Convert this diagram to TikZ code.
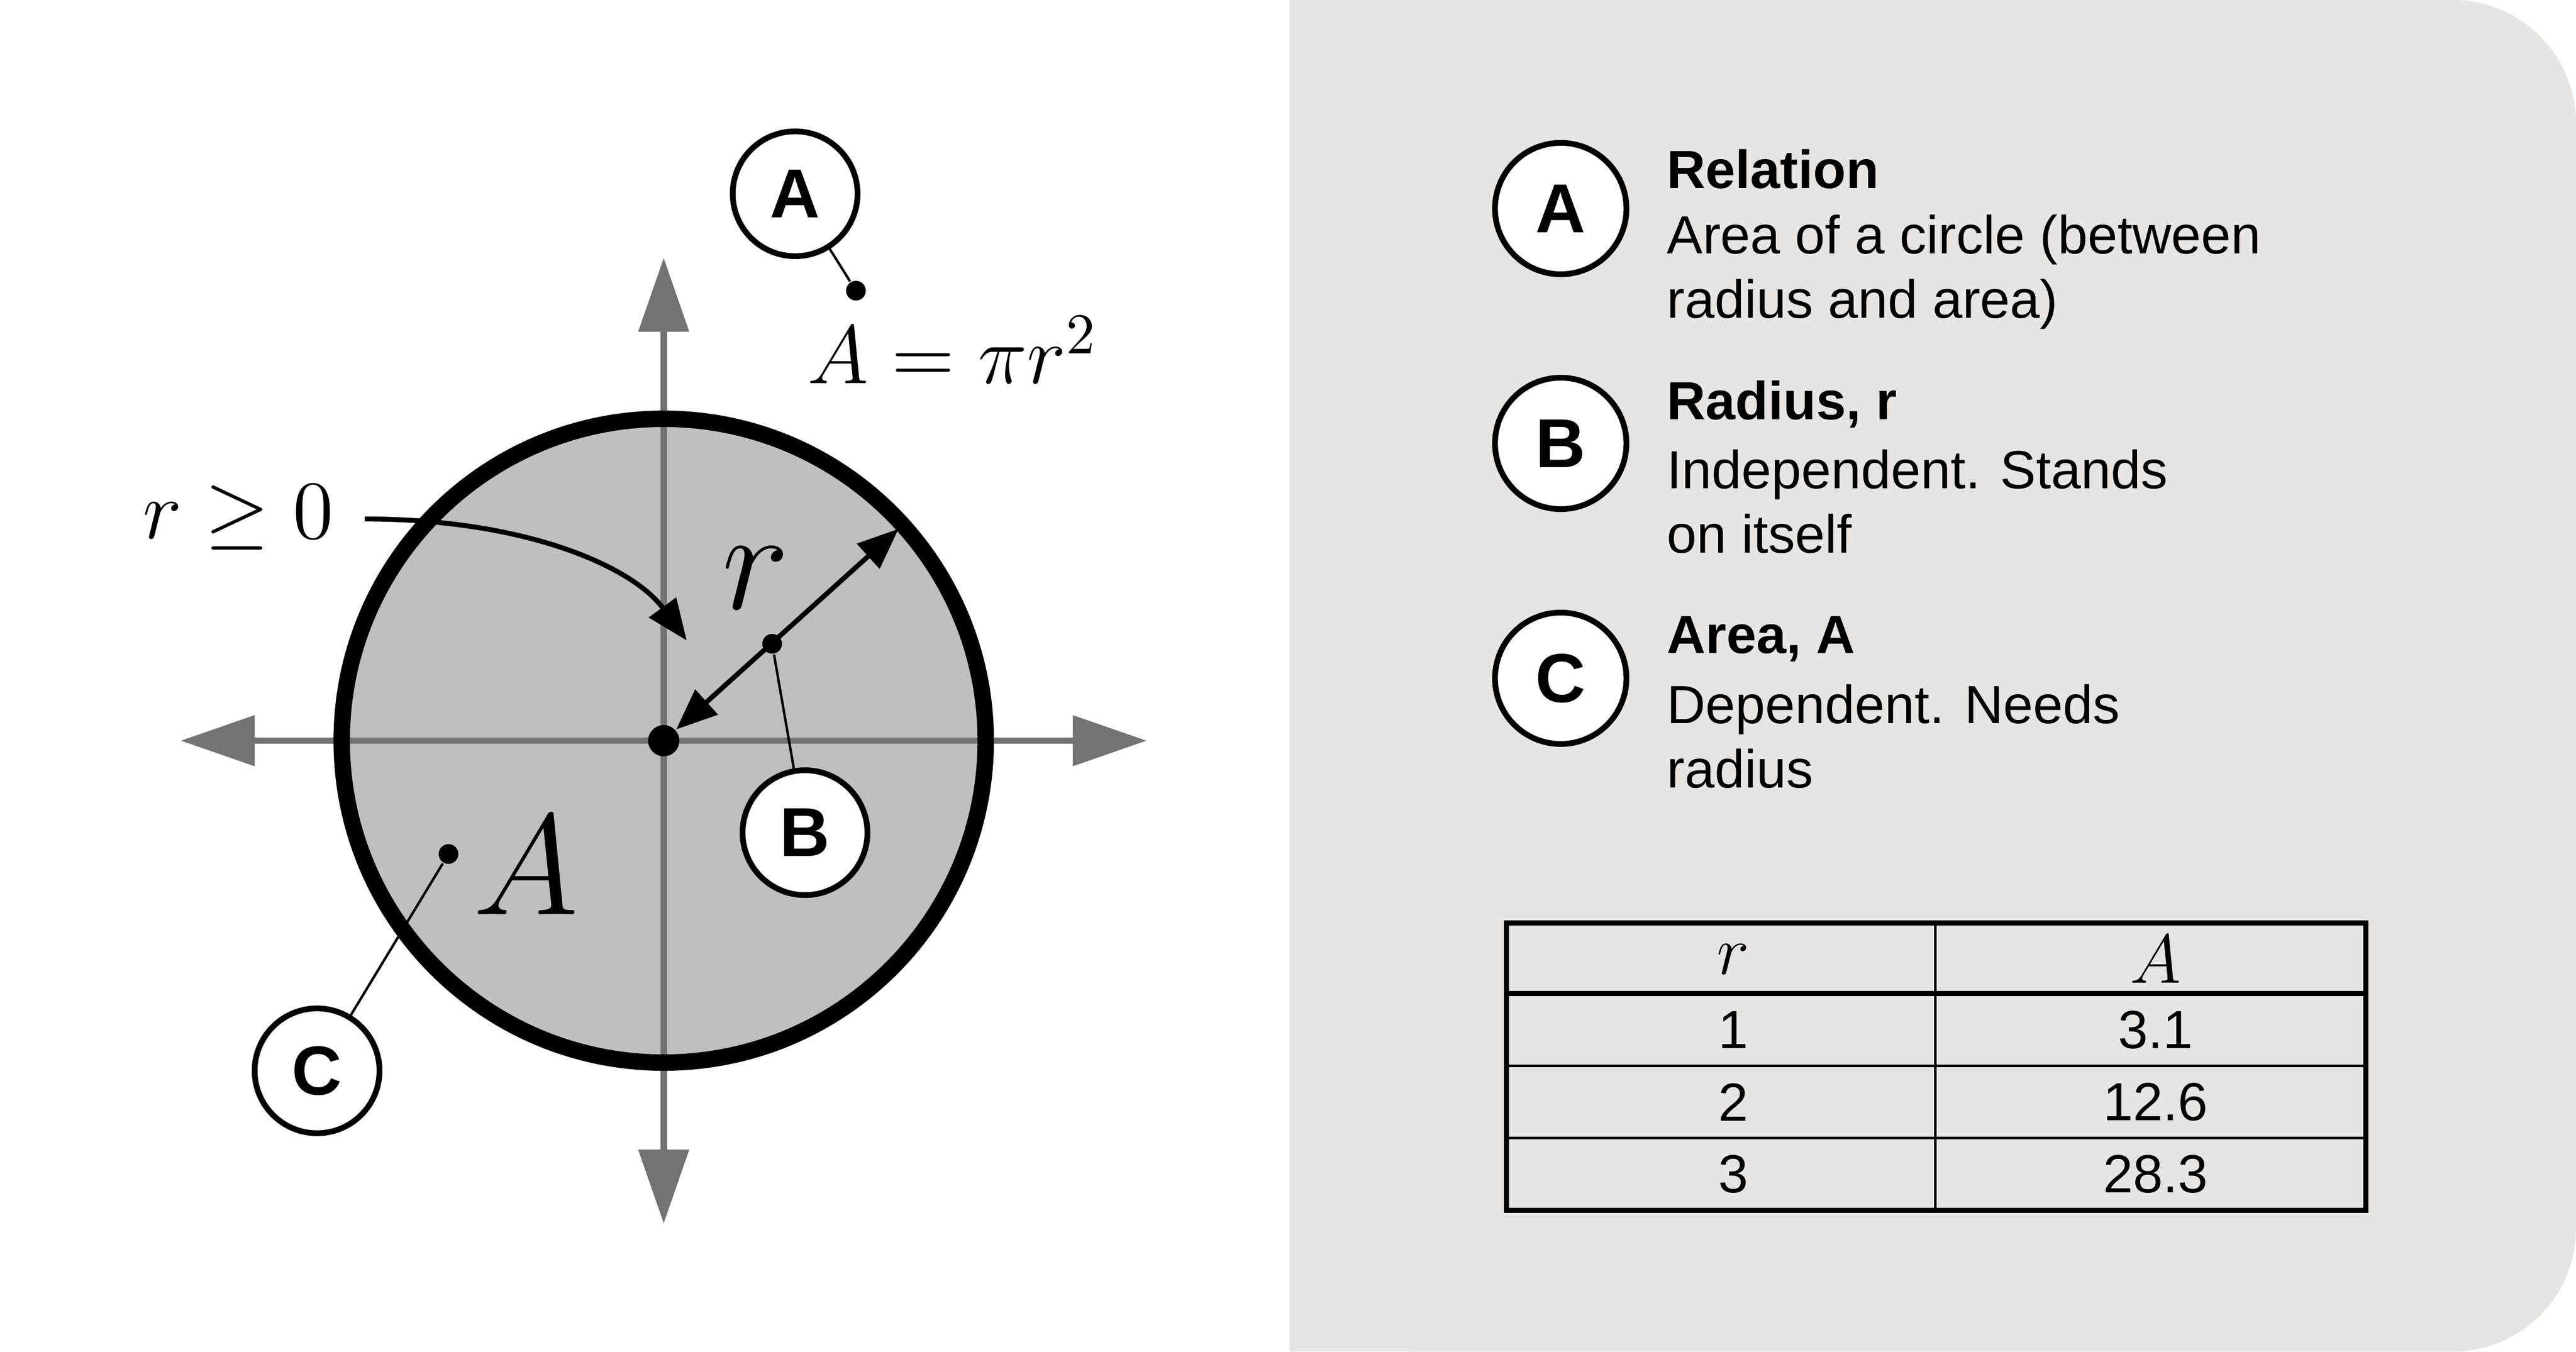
\documentclass[tikz,border=0pt]{standalone}
\usepackage{fontspec}
\setmainfont{Liberation Sans}
\usepackage{amssymb}
\usetikzlibrary{arrows.meta}
\begin{document}
\begin{tikzpicture}[x=0.1mm,y=-0.1mm,
  badge/.style={circle,draw=black,line width=0.35mm,fill=white,minimum size=7.6mm,inner sep=0pt,font=\fontsize{12}{14}\selectfont\bfseries},
  lbadge/.style={badge,minimum size=8mm},
  axis/.style={draw=gray!110,line width=0.4mm,-{Triangle[length=4.5mm,width=3mm]}},
  leader/.style={draw=black,line width=0.15mm},
  ldot/.style={circle,fill=black,inner sep=0pt,minimum size=1.2mm},
  ttl/.style={anchor=west,font=\fontsize{9.3}{11}\selectfont\bfseries,inner sep=0pt},
  body/.style={anchor=north west,align=left,font=\fontsize{9.3}{11.2}\selectfont,inner sep=0pt},
  cell/.style={font=\fontsize{9.3}{11}\selectfont,inner sep=0pt}]
\useasboundingbox (0,0) rectangle (1568,823);
\fill[white] (0,0) rectangle (1568,823);
\definecolor{panel}{HTML}{E6E5E3}
\fill[panel,rounded corners=7.5mm] (785,0) rectangle (1568,823);
\fill[panel] (785,0) rectangle (1100,823);
% circle
\coordinate (O) at (404,451);
\fill[gray!50] (O) circle[radius=196];
\draw[axis] (404,451) -- (110,451);
\draw[axis] (404,451) -- (698,451);
\draw[axis] (404,451) -- (404,157);
\draw[axis] (404,451) -- (404,745);
\draw[line width=1mm] (O) circle[radius=196];
\node[circle,fill=black,inner sep=0pt,minimum size=1.9mm] (c) at (O) {};
\coordinate (rim) at (547,322);
\draw[line width=0.3mm,{Triangle[length=2.5mm,width=2mm]}-{Triangle[length=2.5mm,width=2mm]}] (c) -- (rim);
\node at (460,352) {\fontsize{23}{23}\selectfont$r$};
\node[ldot] (bd) at (470,392) {};
\node[badge] (B) at (490,507) {B};
\draw[leader] (bd) -- (B);
\node[badge] (A) at (484,118) {A};
\node[ldot] (ad) at (521,177) {};
\draw[leader] (A) -- (ad);
\node at (580,213) {\fontsize{14.5}{14.5}\selectfont$A=\pi r^2$};
\node (rg) at (145,315) {\fontsize{15}{15}\selectfont$r\geq 0$};
\coordinate (rgs) at (222,316);
\coordinate (rge) at (418,390);
\draw[line width=0.3mm,-{Triangle[length=2.5mm,width=2mm]}] (rgs) .. controls (320,316) and (385,345) .. (rge);
\node at (320,527) {\fontsize{23}{23}\selectfont$A$};
\node[ldot] (cd) at (273,520) {};
\node[badge] (C) at (193,652) {C};
\draw[leader] (cd) -- (C);
% legend
\node[lbadge] (LA) at (950,127) {A};
\node[ttl] at (1014,103) {Relation};
\node[body] at (1014,130) {Area of a circle (between\\radius and area)};
\node[lbadge] (LB) at (950,270) {B};
\node[ttl] at (1014,246) {Radius, r};
\node[body] at (1014,273) {Independent. Stands\\on itself};
\node[lbadge] (LC) at (950,413) {C};
\node[ttl] at (1014,389) {Area, A};
\node[body] at (1014,416) {Dependent. Needs\\radius};
% table
\draw[line width=0.15mm] (1178,562) -- (1178,737);
\draw[line width=0.15mm] (917,649) -- (1440,649) (917,693) -- (1440,693);
\draw[line width=0.3mm] (917,605) -- (1440,605);
\draw[line width=0.3mm] (917,562) rectangle (1440,737);
\node[cell] at (1055,584) {\fontsize{13}{13}\selectfont$r$};
\node[cell] at (1312,584) {\fontsize{13}{13}\selectfont$A$};
\node[cell] at (1055,627) {1};
\node[cell] at (1312,627) {3.1};
\node[cell] at (1055,671) {2};
\node[cell] at (1312,671) {12.6};
\node[cell] at (1055,715) {3};
\node[cell] at (1312,715) {28.3};
\end{tikzpicture}
\end{document}
